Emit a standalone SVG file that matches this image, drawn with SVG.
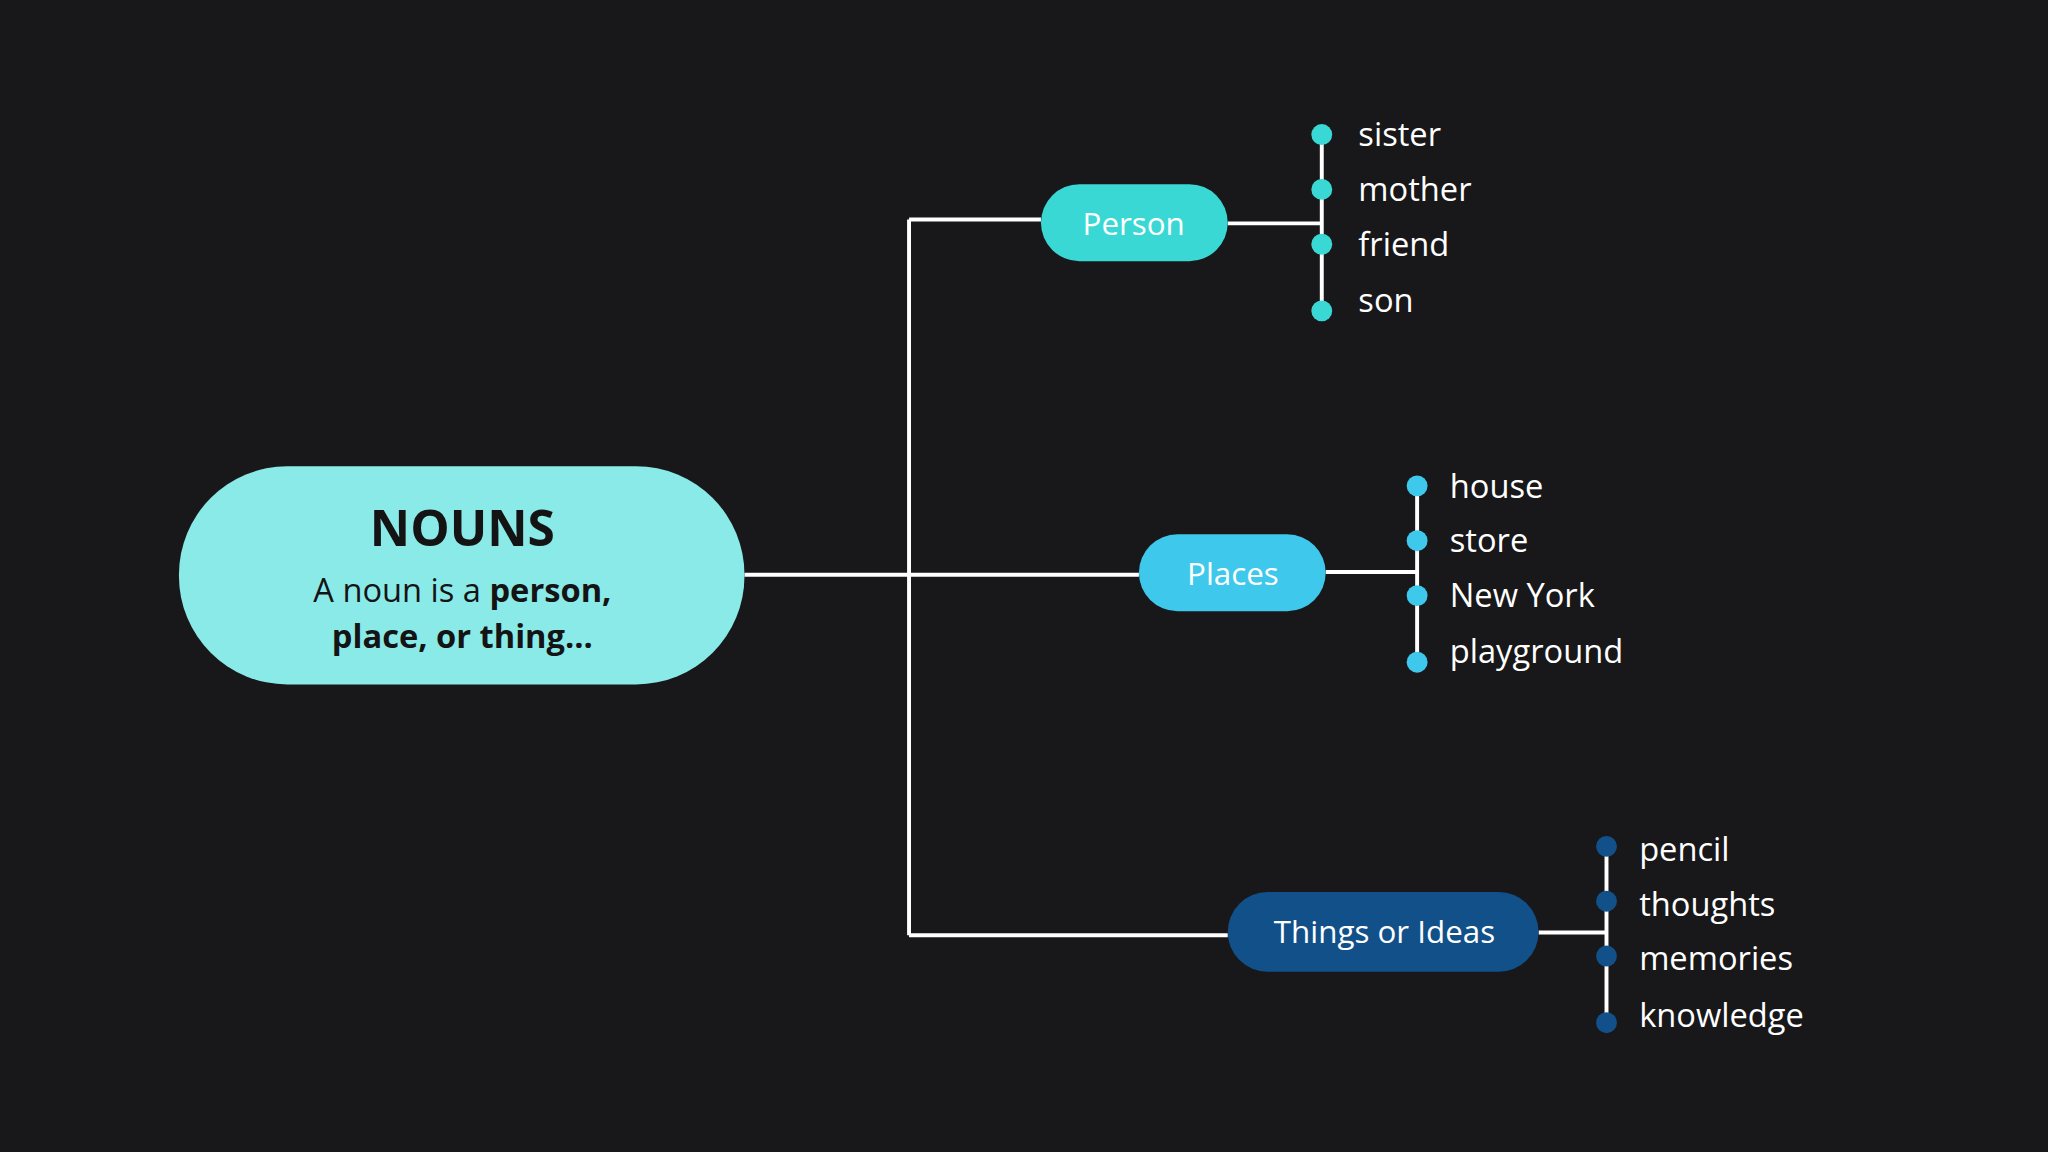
<svg xmlns="http://www.w3.org/2000/svg" width="2048" height="1152" viewBox="0 0 2048 1152">
<style>
.w{fill:none;stroke:#fff;stroke-width:3}
.t{font-family:"Open Sans","Liberation Sans",sans-serif;fill:#fff;font-size:25px}
.p{font-family:"Open Sans","Liberation Sans",sans-serif;fill:#fff;font-size:24px;text-anchor:middle}
</style>
<rect width="2048" height="1152" fill="#18181a"/>
<g transform="scale(1.3061)">
<g id="connectors">
<path class="w" d="M570 440H872M696 168V716M696 168H797M696 716H940"/>
<path class="w" d="M940 171H1012M1012 103V238"/>
<path class="w" d="M1015 438H1085M1085 372V507"/>
<path class="w" d="M1178 714H1230M1230 648V783"/>
</g>
<g id="nouns">
<rect x="137" y="357" width="433" height="167" rx="83" fill="#8aeae8"/>
<text x="354" y="418" text-anchor="middle" font-family="Open Sans,Liberation Sans,sans-serif" font-weight="bold" font-size="38" fill="#141414">NOUNS</text>
<text x="354" y="461" text-anchor="middle" font-family="Open Sans,Liberation Sans,sans-serif" font-size="25" fill="#141414">A noun is a <tspan font-weight="bold">person,</tspan></text>
<text x="354" y="496" text-anchor="middle" font-family="Open Sans,Liberation Sans,sans-serif" font-size="25" font-weight="bold" fill="#141414">place, or thing...</text>
</g>
<g id="person">
<rect x="797" y="141" width="143" height="59" rx="29.5" fill="#3ad8d4"/>
<text class="p" x="868" y="180">Person</text>
<g fill="#3ad8d4"><circle cx="1012" cy="103" r="8"/><circle cx="1012" cy="145" r="8"/><circle cx="1012" cy="187" r="8"/><circle cx="1012" cy="238" r="8"/></g>
<text class="t" x="1040" y="112">sister</text><text class="t" x="1040" y="154">mother</text><text class="t" x="1040" y="196">friend</text><text class="t" x="1040" y="239">son</text>
</g>
<g id="places">
<rect x="872" y="409" width="143" height="59" rx="29.5" fill="#3ec8ec"/>
<text class="p" x="944" y="448">Places</text>
<g fill="#3ec8ec"><circle cx="1085" cy="372" r="8"/><circle cx="1085" cy="414" r="8"/><circle cx="1085" cy="456" r="8"/><circle cx="1085" cy="507" r="8"/></g>
<text class="t" x="1110" y="381">house</text><text class="t" x="1110" y="423">store</text><text class="t" x="1110" y="465">New York</text><text class="t" x="1110" y="508">playground</text>
</g>
<g id="things">
<rect x="940" y="683" width="238" height="61" rx="30.5" fill="#12508a"/>
<text class="p" x="1060" y="722">Things or Ideas</text>
<g fill="#12508a"><circle cx="1230" cy="648" r="8"/><circle cx="1230" cy="690" r="8"/><circle cx="1230" cy="732" r="8"/><circle cx="1230" cy="783" r="8"/></g>
<text class="t" x="1255" y="659">pencil</text><text class="t" x="1255" y="701">thoughts</text><text class="t" x="1255" y="743">memories</text><text class="t" x="1255" y="786">knowledge</text>
</g>
</g>
</svg>
